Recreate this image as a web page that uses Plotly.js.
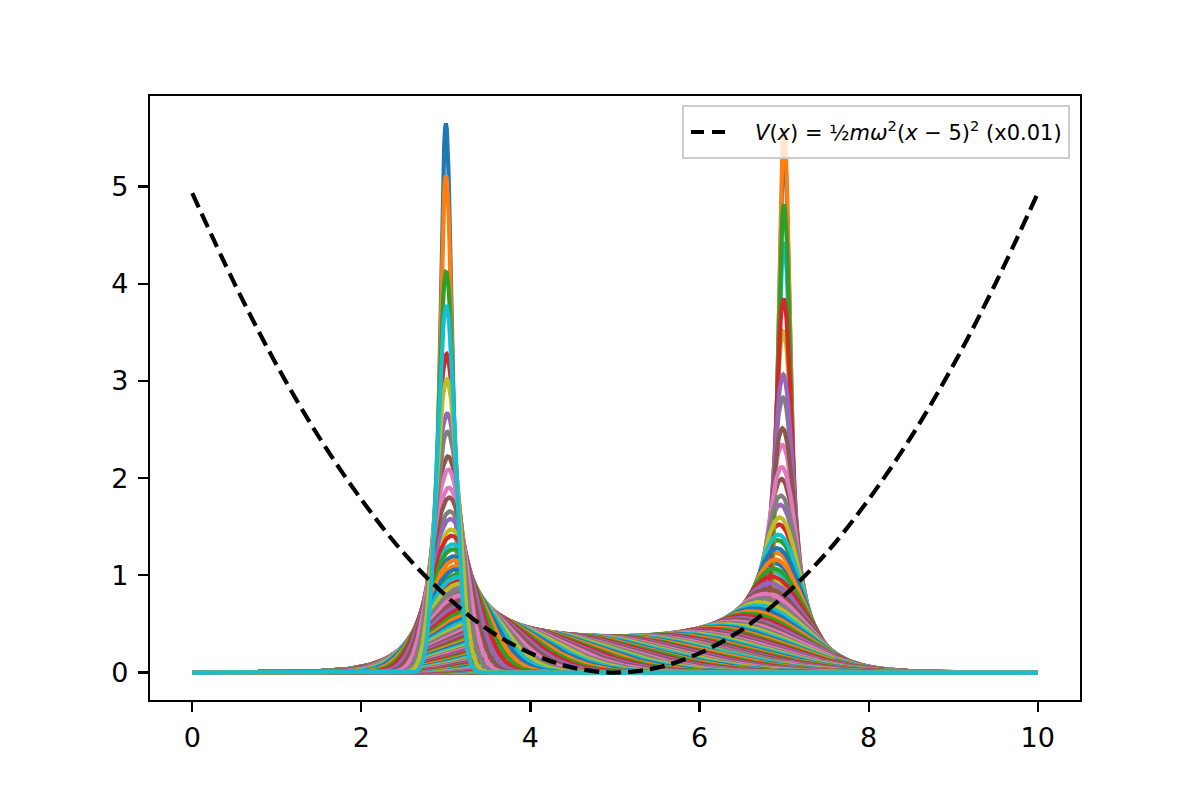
<!DOCTYPE html>
<html>
<head>
<meta charset="utf-8">
<script src="https://cdn.plot.ly/plotly-3.0.1.min.js"></script>
<style>html,body{margin:0;padding:0;background:#fff;}#chart{width:1200px;height:800px;}</style>
</head>
<body>
<div id="chart"></div>
<script>
// ---- values ----
// dashed potential curve V(x) (x0.01), read at half-unit steps
const potentialX = [0, 0.5, 1, 1.5, 2, 2.5, 3, 3.5, 4, 4.5, 5, 5.5, 6, 6.5, 7, 7.5, 8, 8.5, 9, 9.5, 10];
const potentialY = [4.93, 4.00, 3.16, 2.42, 1.78, 1.23, 0.79, 0.44, 0.20, 0.05, 0.00, 0.05, 0.20, 0.44, 0.79, 1.23, 1.78, 2.42, 3.16, 4.00, 4.93];

// wave-packet family: turning points, peak heights
const turningPoints = [3, 7];          // packet oscillates between these
const narrowPeak = [5.65];             // tallest peak (at x = 3)
const widePeak = [0.375];              // flat top of the broad packets near x = 5
const curveCount = [200];              // number of drawn densities
const phaseStep = [0.0312];            // phase advance between successive curves (rad)

const colors = ['#1f77b4','#ff7f0e','#2ca02c','#d62728','#9467bd','#8c564b','#e377c2','#7f7f7f','#bcbd22','#17becf'];
const xTicks = [0, 2, 4, 6, 8, 10];
const yTicks = [0, 1, 2, 3, 4, 5];
const legendLabel = '<i>V</i>(<i>x</i>) = ½<i>mω</i><sup>2</sup>(<i>x</i> − 5)<sup>2</sup> (x0.01)';

// ---- build traces ----
const SQ2PI = Math.sqrt(2 * Math.PI);
const sigma0 = 1 / (narrowPeak[0] * SQ2PI);
const sigma1 = 1 / (widePeak[0] * SQ2PI);
const mid = (turningPoints[0] + turningPoints[1]) / 2;
const amp = (turningPoints[1] - turningPoints[0]) / 2;
const xs = [];
for (let i = 0; i <= 1000; i++) xs.push(i / 100);

const traces = [];
for (let k = 0; k < curveCount[0]; k++) {
  const ph = k * phaseStep[0];
  const c = mid - amp * Math.cos(ph);
  const s = Math.sqrt(sigma0 * sigma0 * Math.cos(ph) ** 2 + sigma1 * sigma1 * Math.sin(ph) ** 2);
  const ys = xs.map(x => Math.exp(-((x - c) ** 2) / (2 * s * s)) / (s * SQ2PI));
  traces.push({
    x: xs, y: ys, type: 'scatter', mode: 'lines',
    line: {color: colors[k % 10], width: 4.2},
    showlegend: false, hoverinfo: 'skip'
  });
}
traces.push({
  x: potentialX, y: potentialY, type: 'scatter', mode: 'lines',
  line: {color: '#000', width: 4.2, dash: '15px,7px', shape: 'spline', smoothing: 1},
  showlegend: false, hoverinfo: 'skip'
});

const L = 150, T = 96, W = 930, H = 604;
const px = v => (v - L) / W;
const py = v => (L, (T + H - v) / H);

const layout = {
  width: 1200, height: 800,
  margin: {l: 150, r: 120, t: 96, b: 100, pad: 0},
  paper_bgcolor: '#fff', plot_bgcolor: '#fff',
  font: {family: 'DejaVu Sans, sans-serif', color: '#000', size: 27},
  showlegend: false,
  xaxis: {
    range: [-0.5, 10.5], tickvals: xTicks, ticktext: xTicks.map(String),
    ticks: 'outside', ticklen: 10, tickwidth: 2.2, tickcolor: '#000',
    showline: true, linecolor: '#000', linewidth: 2.2, mirror: true,
    showgrid: false, zeroline: false, tickfont: {size: 27}, ticklabelstandoff: 2
  },
  yaxis: {
    range: [-0.2825, 5.93], tickvals: yTicks, ticktext: yTicks.map(String),
    ticks: 'outside', ticklen: 10, tickwidth: 2.2, tickcolor: '#000',
    showline: true, linecolor: '#000', linewidth: 2.2, mirror: true,
    showgrid: false, zeroline: false, tickfont: {size: 27}, ticklabelstandoff: 4
  },
  shapes: [
    {type: 'rect', xref: 'paper', yref: 'paper', layer: 'above',
     x0: px(683), x1: px(1069), y0: py(106), y1: py(158),
     fillcolor: 'rgba(255,255,255,0.8)', line: {color: '#cccccc', width: 2}},
    {type: 'line', xref: 'paper', yref: 'paper', layer: 'above',
     x0: px(691), x1: px(725), y0: py(132), y1: py(132),
     line: {color: '#000', width: 4.2, dash: '13px,8px'}}
  ],
  annotations: [
    {xref: 'paper', yref: 'paper', x: px(753), y: py(131), xanchor: 'left', yanchor: 'middle',
     text: legendLabel, showarrow: false, font: {size: 21, family: 'DejaVu Sans', color: '#000'}}
  ]
};

Plotly.newPlot('chart', traces, layout, {displayModeBar: false, staticPlot: true});
</script>
</body>
</html>
